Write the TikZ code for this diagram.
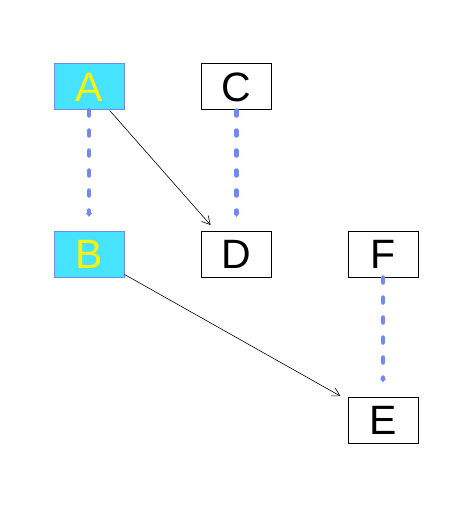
\documentclass[tikz,border=0pt]{standalone}
\usepackage{fontspec}
\setmainfont{Liberation Sans}
\usetikzlibrary{arrows.meta}
\definecolor{boxcyan}{RGB}{70,227,255}
\definecolor{dashblue}{RGB}{115,135,245}

\begin{document}
\begin{tikzpicture}[x=1pt,y=-1pt,
	box/.style={draw=black,line width=1pt,fill=white,minimum width=70pt,minimum height=46pt,inner sep=0pt,font=\fontsize{41}{48}\selectfont},
	hibox/.style={box,draw=dashblue,fill=boxcyan,text=yellow},
	thin arrow/.style={draw=black,line width=0.6pt,-{Straight Barb[length=8pt,width=9pt]},shorten >=8pt},
	blue arrow/.style={draw=dashblue,line width=4.5pt,line cap=round,dash pattern=on 5pt off 15pt,-{Latex[length=4pt,width=7pt]},shorten >=14pt}]
	\useasboundingbox (0,0) rectangle (474,508);
	\node[hibox] (A) at (89,87) {A};
	\node[hibox] (B) at (89,254.5) {B};
	\node[box] (C) at (236.5,87) {C};
	\node[box] (D) at (236.5,254.5) {D};
	\node[box] (F) at (383,254) {F};
	\node[box] (E) at (383,420) {E};
	\draw[blue arrow] (A) -- (B);
	\draw[blue arrow] (C) -- (D);
	\draw[blue arrow] (F) -- (E);
	\draw[thin arrow] (A) -- (D);
	\draw[thin arrow] (B) -- (E);
\end{tikzpicture}
\end{document}
